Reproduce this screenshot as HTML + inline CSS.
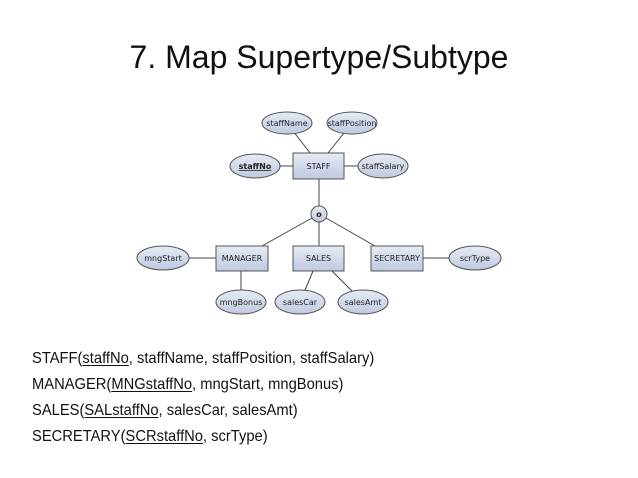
<!DOCTYPE html>
<html><head><style>
body{margin:0;width:638px;height:478px;background:#fff;overflow:hidden;position:relative;font-family:"Liberation Sans",sans-serif}
.t{position:absolute;left:0;width:638px;top:39px;text-align:center;font-size:32px;color:#111}
.r{position:absolute;left:32px;font-size:16px;color:#111;white-space:nowrap;transform:scaleX(0.92);transform-origin:0 0}
u{text-underline-offset:2px}
</style></head><body>
<div class="t">7. Map Supertype/Subtype</div>
<svg width="638" height="478" style="position:absolute;left:0;top:0">
<defs><linearGradient id="g" x1="0" y1="0" x2="0" y2="1"><stop offset="0" stop-color="#e6ebf5"/><stop offset="1" stop-color="#bfc9df"/></linearGradient></defs>
<g stroke="#444" stroke-width="1">
<line x1="287" y1="123" x2="310" y2="153"/><line x1="352" y1="123" x2="328" y2="153"/>
<line x1="255" y1="166" x2="293" y2="166"/><line x1="344" y1="166" x2="383" y2="166"/>
<line x1="319" y1="179" x2="319" y2="206"/>
<line x1="312" y1="218" x2="262" y2="246"/><line x1="319" y1="222" x2="319" y2="246"/><line x1="326" y1="218" x2="375" y2="246"/>
<line x1="163" y1="258" x2="216" y2="258"/><line x1="423" y1="258" x2="475" y2="258"/>
<line x1="241" y1="271" x2="241" y2="302"/><line x1="313" y1="271" x2="300" y2="302"/><line x1="332" y1="271" x2="363" y2="302"/>
</g>
<g fill="url(#g)" stroke="#555" stroke-width="1">
<ellipse cx="287" cy="123" rx="25" ry="11"/><ellipse cx="352" cy="123" rx="25" ry="11"/>
<ellipse cx="255" cy="166" rx="25" ry="12"/><ellipse cx="383" cy="166" rx="25" ry="12"/>
<ellipse cx="163" cy="258" rx="26" ry="12"/><ellipse cx="475" cy="258" rx="26" ry="12"/>
<ellipse cx="241" cy="302" rx="25" ry="12"/><ellipse cx="300" cy="302" rx="25" ry="12"/><ellipse cx="363" cy="302" rx="25" ry="12"/>
<rect x="293" y="153" width="51" height="26"/>
<rect x="216" y="246" width="52" height="25"/><rect x="293" y="246" width="51" height="25"/><rect x="371" y="246" width="52" height="25"/>
<circle cx="319" cy="214" r="8"/>
</g>
<g font-family="DejaVu Sans,sans-serif" font-size="8" fill="#222" text-anchor="middle">
<text x="287" y="126">staffName</text><text x="352" y="126">staffPosition</text>
<text x="255" y="169" font-weight="bold" text-decoration="underline">staffNo</text><text x="383" y="169">staffSalary</text>
<text x="318.5" y="169">STAFF</text>
<text x="319" y="217" font-weight="bold">o</text>
<text x="242" y="261">MANAGER</text><text x="318.5" y="261">SALES</text><text x="397" y="261">SECRETARY</text>
<text x="163" y="261">mngStart</text><text x="475" y="261">scrType</text>
<text x="241" y="305">mngBonus</text><text x="300" y="305">salesCar</text><text x="363" y="305">salesAmt</text>
</g>
</svg>
<div class="r" style="top:350px">STAFF(<u>staffNo</u>, staffName, staffPosition, staffSalary)</div>
<div class="r" style="top:376px">MANAGER(<u>MNGstaffNo</u>, mngStart, mngBonus)</div>
<div class="r" style="top:402px">SALES(<u>SALstaffNo</u>, salesCar, salesAmt)</div>
<div class="r" style="top:428px">SECRETARY(<u>SCRstaffNo</u>, scrType)</div>
</body></html>
